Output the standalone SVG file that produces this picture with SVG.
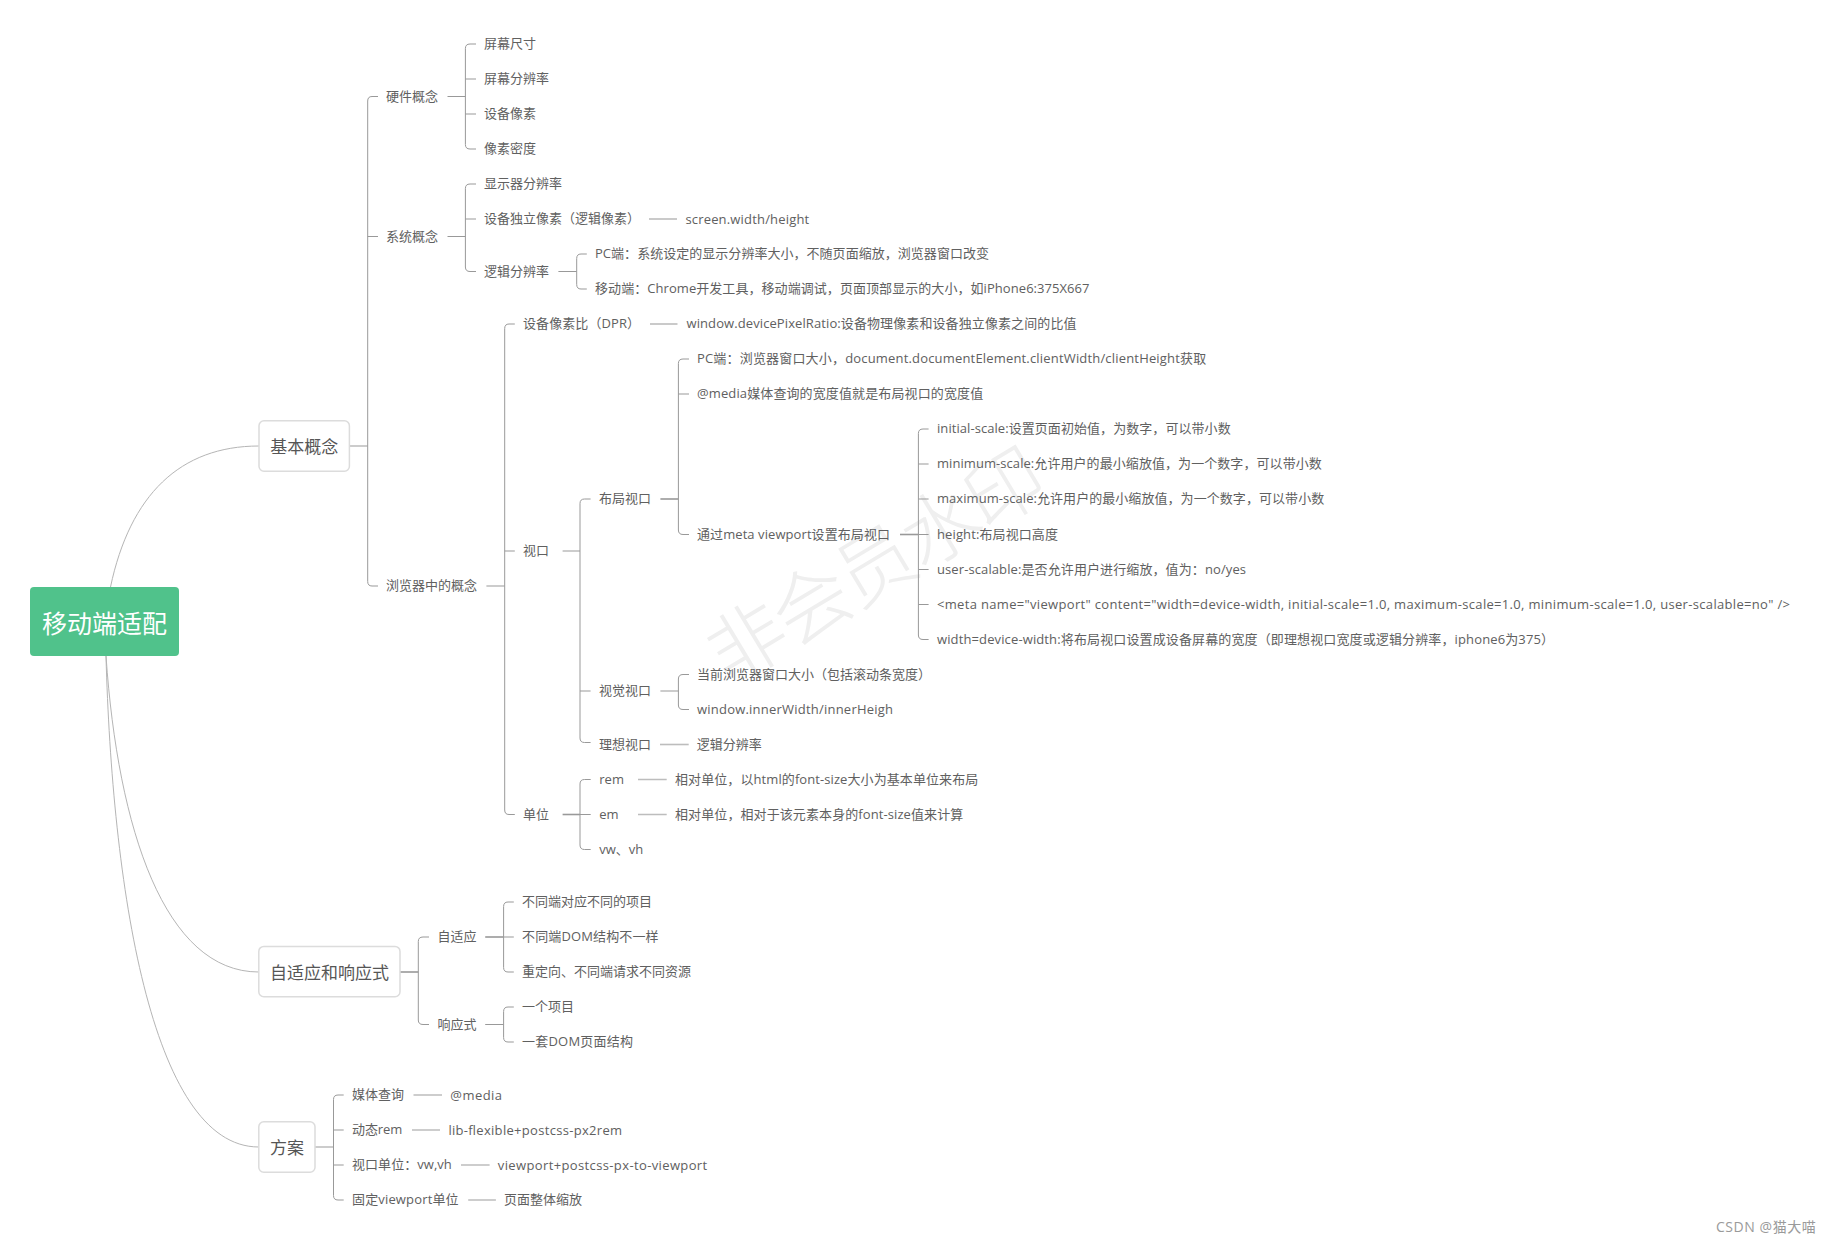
<svg xmlns="http://www.w3.org/2000/svg" width="1831" height="1243" viewBox="0 0 1831 1243">
<style>
text{font-family:"Open Sans","Noto Sans CJK SC",sans-serif;font-size:13px;fill:#606060}
.t2{font-size:17px;fill:#565656;text-anchor:middle}
.root{font-size:25px;fill:#fff;text-anchor:middle}
.box{fill:#fff;stroke:#dcdcdc;stroke-width:1.5}
.c{fill:none;stroke:#999;stroke-width:1}
.s{fill:none;stroke:#bdbdbd;stroke-width:1.6}
.h{fill:none;stroke:#999;stroke-width:1.6}
.m{fill:none;stroke:#b5b5b5;stroke-width:1}
.wm{font-size:78px;fill:#efefef;text-anchor:middle;font-weight:300}
.cs{font-size:14px;fill:#9a9a9a}
</style>
<rect width="1831" height="1243" fill="#fff"/>
<text class="wm" transform="translate(889,590) rotate(-31)" letter-spacing="-3">非会员水印</text>
<g id="connectors">
<path class="m" d="M110.5,587C130,495 180,446 259,446"/>
<path class="m" d="M106,656C118,830 165,972 258.8,972"/>
<path class="m" d="M106,656C112,880 150,1147 258.8,1147"/>
<path class="c" d="M349.4,446H367.7M378,96.5H372Q367.7,96.5 367.7,101V581.5Q367.7,586 372,586H378M367.7,236.5H378"/>
<path class="c" d="M447.5,96.5H465.4M476,44H470Q465.4,44 465.4,48.500V144.500Q465.4,149 470,149H476M465.4,79H476M465.4,114H476"/>
<path class="c" d="M447.5,236.500H465.4M476,184H470Q465.4,184 465.4,188.500V267Q465.4,271.500 470,271.500H476M465.4,219H476"/>
<path class="c" d="M558.4,271.500H576.700M586.800,254H581Q576.700,254 576.700,258.500V284.500Q576.700,289 581,289H586.800"/>
<path class="s" d="M649,219H677"/>
<path class="c" d="M486.400,586H504.700M514.800,324H509Q504.700,324 504.700,328.500V810Q504.700,814.500 509,814.500H514.800M504.700,551H514.800"/>
<path class="s" d="M650,324H677.500"/>
<path class="c" d="M562.600,551H580M590.600,499H584.500Q580,499 580,503.500V738Q580,742.500 584.500,742.500H590.600M580,691H590.600"/>
<path class="h" d="M660.400,499H678.400"/>
<path class="c" d="M689,359H683Q678.400,359 678.400,363.500V530Q678.400,534.500 683,534.500H689M678.400,394H689"/>
<path class="h" d="M900,534.500H918.400"/>
<path class="c" d="M928.600,429H923Q918.400,429 918.400,433.500V635Q918.400,639.500 923,639.500H928.600M918.400,464H928.600M918.400,499H928.600M918.400,534.500H928.600M918.400,569.500H928.600M918.400,604.500H928.600"/>
<path class="c" d="M660.400,691H678.400M689,674.500H683Q678.400,674.500 678.400,679V705Q678.400,709.500 683,709.500H689"/>
<path class="s" d="M660,744.500H688.700"/>
<path class="h" d="M562.600,814.500H580"/>
<path class="c" d="M590.700,779.500H584.500Q580,779.500 580,784V845Q580,849.500 584.500,849.500H590.700M580,814.500H590.700"/>
<path class="s" d="M638,779.500H666.700M638,814.500H666.700"/>
<path class="h" d="M400,972H418.300"/>
<path class="c" d="M429,937H423Q418.300,937 418.300,941.500V1020Q418.300,1024.500 423,1024.500H429"/>
<path class="h" d="M485.200,937H503.600"/>
<path class="c" d="M513.800,902H508Q503.600,902 503.600,906.500V967.500Q503.600,972 508,972H513.800M503.600,937H513.800"/>
<path class="c" d="M485.200,1024.500H503.600M513.800,1007H508Q503.600,1007 503.600,1011.500V1037.500Q503.600,1042 508,1042H513.800"/>
<path class="c" d="M315,1147H333.500M343.700,1095H338Q333.500,1095 333.500,1099.500V1195.500Q333.500,1200 338,1200H343.700M333.500,1130H343.700M333.500,1165H343.700"/>
<path class="s" d="M413.500,1095H442M412,1130H440M461,1165H489.600M468.200,1200H495.900"/>
</g>
<g id="root"><rect x="30" y="587" width="149" height="69" rx="4" fill="#50c28b"/><text class="root" x="104.500" y="633">移动端适配</text></g>
<g id="n-basic"><rect class="box" x="259" y="420.700" width="90.400" height="50.600" rx="5"/><text class="t2" x="304.300" y="453">基本概念</text></g>
<g id="n-adaptive"><rect class="box" x="258.800" y="946.400" width="141.200" height="50.400" rx="5"/><text class="t2" x="329.400" y="979">自适应和响应式</text></g>
<g id="n-plan"><rect class="box" x="258.800" y="1121.700" width="56.200" height="50.600" rx="5"/><text class="t2" x="286.900" y="1154">方案</text></g>
<g id="n-hw"><text x="386" y="100.500">硬件概念</text></g>
<g id="n-hw1"><text x="484" y="48">屏幕尺寸</text></g>
<g id="n-hw2"><text x="484" y="83">屏幕分辨率</text></g>
<g id="n-hw3"><text x="484" y="118">设备像素</text></g>
<g id="n-hw4"><text x="484" y="153">像素密度</text></g>
<g id="n-sys"><text x="386" y="240.500">系统概念</text></g>
<g id="n-sys1"><text x="484" y="188">显示器分辨率</text></g>
<g id="n-sys2"><text x="484" y="223">设备独立像素（逻辑像素）</text></g>
<g id="n-sys2a"><text x="685.400" y="223.500" textLength="123.800">screen.width/height</text></g>
<g id="n-sys3"><text x="484" y="275.500">逻辑分辨率</text></g>
<g id="n-sys3a"><text x="595" y="258" textLength="394">PC端：系统设定的显示分辨率大小，不随页面缩放，浏览器窗口改变</text></g>
<g id="n-sys3b"><text x="595" y="293" textLength="494.500">移动端：Chrome开发工具，移动端调试，页面顶部显示的大小，如iPhone6:375X667</text></g>
<g id="n-br"><text x="386" y="590">浏览器中的概念</text></g>
<g id="n-dpr"><text x="523" y="328" textLength="117">设备像素比（DPR）</text></g>
<g id="n-dpra"><text x="686.500" y="328" textLength="390">window.devicePixelRatio:设备物理像素和设备独立像素之间的比值</text></g>
<g id="n-vp"><text x="523" y="555">视口</text></g>
<g id="n-layout"><text x="599" y="503">布局视口</text></g>
<g id="n-l1"><text x="697" y="363" textLength="509.200">PC端：浏览器窗口大小，document.documentElement.clientWidth/clientHeight获取</text></g>
<g id="n-l2"><text x="697" y="398" textLength="286.200">@media媒体查询的宽度值就是布局视口的宽度值</text></g>
<g id="n-l3"><text x="697" y="538.500" textLength="193">通过meta viewport设置布局视口</text></g>
<g id="n-m1"><text x="937" y="433" textLength="293.700">initial-scale:设置页面初始值，为数字，可以带小数</text></g>
<g id="n-m2"><text x="937" y="468" textLength="384.800">minimum-scale:允许用户的最小缩放值，为一个数字，可以带小数</text></g>
<g id="n-m3"><text x="937" y="503" textLength="387.200">maximum-scale:允许用户的最小缩放值，为一个数字，可以带小数</text></g>
<g id="n-m4"><text x="937" y="538.500" textLength="121">height:布局视口高度</text></g>
<g id="n-m5"><text x="937" y="573.500" textLength="309">user-scalable:是否允许用户进行缩放，值为：no/yes</text></g>
<g id="n-m6"><text x="937" y="609" textLength="853">&lt;meta name="viewport" content="width=device-width, initial-scale=1.0, maximum-scale=1.0, minimum-scale=1.0, user-scalable=no" /&gt;</text></g>
<g id="n-m7"><text x="937" y="643.500" textLength="617">width=device-width:将布局视口设置成设备屏幕的宽度（即理想视口宽度或逻辑分辨率，iphone6为375）</text></g>
<g id="n-visual"><text x="599" y="695">视觉视口</text></g>
<g id="n-v1"><text x="697" y="678.500">当前浏览器窗口大小（包括滚动条宽度）</text></g>
<g id="n-v2"><text x="697" y="714" textLength="196">window.innerWidth/innerHeigh</text></g>
<g id="n-ideal"><text x="599" y="748.500">理想视口</text></g>
<g id="n-ideala"><text x="696.700" y="748.500">逻辑分辨率</text></g>
<g id="n-unit"><text x="523" y="818.500">单位</text></g>
<g id="n-rem"><text x="599.300" y="784">rem</text></g>
<g id="n-rema"><text x="675" y="783.500" textLength="303.300">相对单位，以html的font-size大小为基本单位来布局</text></g>
<g id="n-em"><text x="599.300" y="819">em</text></g>
<g id="n-ema"><text x="675" y="818.500" textLength="288.300">相对单位，相对于该元素本身的font-size值来计算</text></g>
<g id="n-vw"><text x="599.300" y="854">vw、vh</text></g>
<g id="n-ad"><text x="437.500" y="941">自适应</text></g>
<g id="n-ad1"><text x="522" y="906">不同端对应不同的项目</text></g>
<g id="n-ad2"><text x="522" y="941" textLength="136.600">不同端DOM结构不一样</text></g>
<g id="n-ad3"><text x="522" y="976">重定向、不同端请求不同资源</text></g>
<g id="n-rs"><text x="437.500" y="1028.500">响应式</text></g>
<g id="n-rs1"><text x="522" y="1011">一个项目</text></g>
<g id="n-rs2"><text x="522" y="1046" textLength="111">一套DOM页面结构</text></g>
<g id="n-p1"><text x="352" y="1099">媒体查询</text></g>
<g id="n-p1a"><text x="450.300" y="1099.500" textLength="51.700">@media</text></g>
<g id="n-p2"><text x="352" y="1134" textLength="50.300">动态rem</text></g>
<g id="n-p2a"><text x="448.400" y="1134.500" textLength="173.700">lib-flexible+postcss-px2rem</text></g>
<g id="n-p3"><text x="352" y="1169" textLength="99.800">视口单位：vw,vh</text></g>
<g id="n-p3a"><text x="497.800" y="1169.500" textLength="209.400">viewport+postcss-px-to-viewport</text></g>
<g id="n-p4"><text x="352" y="1204" textLength="106.600">固定viewport单位</text></g>
<g id="n-p4a"><text x="504" y="1204">页面整体缩放</text></g>
<text class="cs" x="1716" y="1232" textLength="99.700">CSDN @猫大喵</text>
</svg>
